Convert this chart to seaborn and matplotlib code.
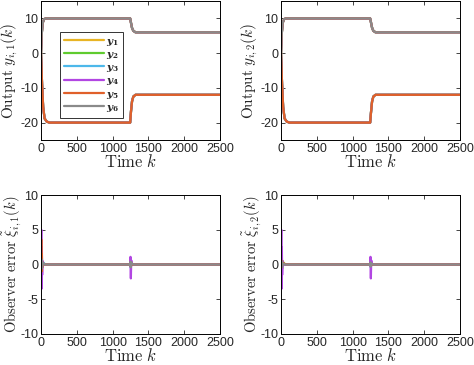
import numpy as np
import pandas as pd
import seaborn as sns
import matplotlib.pyplot as plt
from matplotlib.lines import Line2D
from matplotlib.font_manager import FontProperties

# --- data ---
AGENTS = ["y1", "y2", "y3", "y4", "y5", "y6"]
LEGEND_LABELS = [r"$\boldsymbol{y}_{\mathbf{%d}}$" % i for i in range(1, 7)]
COLORS = ["#E8B424", "#5FCB2E", "#4DB8EA", "#B246E2", "#E0602A", "#8A8A8A"]

# output trajectories (knots of the curves)
UP_K = [0, 10, 25, 45, 70, 1245, 1258, 1272, 1290, 1320, 2500]
UP_1 = [0, 5.5, 8.8, 9.8, 10, 10, 8.6, 7.2, 6.4, 6.0, 6.0]
UP_2 = [0, 5.5, 8.8, 9.8, 10, 10, 8.7, 7.3, 6.4, 6.0, 6.0]
LOW_K = [0, 15, 30, 50, 80, 120, 1245, 1258, 1272, 1290, 1320, 2500]
LOW_1 = [0, -9, -15.5, -18.8, -19.7, -20, -20, -16.5, -13.8, -12.5, -12, -12]
LOW_2 = [0, -9, -15.5, -18.8, -19.7, -20, -20, -16.8, -13.9, -12.5, -12, -12]

# observer error transients
ERR_K = [0, 4, 8, 12, 16, 22, 32, 50, 70, 1245, 1250, 1255, 1260, 1270, 1285, 1300, 2500]
ERR1 = [
    [0, 1.0, -0.8, 0.5, -0.3, 0.1, 0.05, 0, 0, 0, 0.3, -0.3, 0.1, 0, 0, 0, 0],
    [0, 1.5, -1.0, 0.6, -0.3, 0.1, 0.05, 0, 0, 0, 0.2, -0.4, 0.2, 0, 0, 0, 0],
    [0, 2.0, -1.5, 1.0, -0.5, 0.4, 0.3, 0.1, 0, 0, 0.5, -0.5, 0.3, 0.1, 0, 0, 0],
    [0, 5.0, -3.5, 2.5, -1.5, 0.5, 0.1, 0, 0, 0, 1.1, -2.0, 0.6, 0.1, 0, 0, 0],
    [0, 3.6, -1.0, 1.5, -0.5, 0.3, 0.1, 0.05, 0, 0, 0.3, -0.3, 0.1, 0, 0, 0, 0],
    [0, 0.8, -0.6, 0.5, -0.3, 0.3, 0.2, 0.05, 0, 0, 0.4, -0.4, 0.3, 0.15, 0.03, 0, 0],
]
ERR2 = [
    [0, 0.8, -0.6, 0.4, -0.2, 0.1, 0.05, 0, 0, 0, 0.3, -0.3, 0.1, 0, 0, 0, 0],
    [0, 1.2, -0.9, 1.0, -0.6, 0.5, 0.3, 0.1, 0, 0, 0.3, -0.4, 0.2, 0.1, 0, 0, 0],
    [0, 1.0, -0.8, 0.6, -0.4, 0.2, 0.1, 0, 0, 0, 0.4, -0.4, 0.2, 0.1, 0, 0, 0],
    [0, 5.0, -3.5, 2.5, -1.5, 0.5, 0.1, 0, 0, 0, 1.1, -2.0, 0.6, 0.1, 0, 0, 0],
    [0, 0.6, -0.4, 0.3, -0.2, 0.3, 0.2, 0.1, 0.02, 0, 0.2, -0.2, 0.1, 0, 0, 0, 0],
    [0, 0.5, -0.4, 0.3, -0.2, 0.2, 0.1, 0.03, 0, 0, 0.3, -0.3, 0.2, 0.1, 0.02, 0, 0],
]


def long_frame(ks, rows):
    recs = []
    for name, vals in zip(AGENTS, rows):
        for k, v in zip(ks, vals):
            recs.append({"k": k, "v": v, "agent": name})
    return pd.DataFrame(recs)


sns.set_theme(style="ticks")
plt.rcParams["font.family"] = ["Liberation Sans", "DejaVu Sans"]
plt.rcParams["mathtext.fontset"] = "cm"
plt.rcParams["axes.unicode_minus"] = False

fig = plt.figure(figsize=(4.74, 3.65), dpi=100)
W, H = 474, 365


def add_ax(x0, x1, y0, y1):
    return fig.add_axes([x0 / W, 1 - y1 / H, (x1 - x0) / W, (y1 - y0) / H])


axes = [
    add_ax(41, 220, 1, 140), add_ax(281, 460, 1, 140),
    add_ax(41, 220, 195, 334), add_ax(281, 460, 195, 334),
]
pal = dict(zip(AGENTS, COLORS))
lw = 1.6

for ax, up, low in [(axes[0], UP_1, LOW_1), (axes[1], UP_2, LOW_2)]:
    sns.lineplot(data=long_frame(UP_K, [up] * 6), x="k", y="v", hue="agent",
                 hue_order=AGENTS, palette=pal, lw=lw, legend=False,
                 estimator=None, sort=False, ax=ax)
    order = ["y1", "y2", "y3", "y4", "y6", "y5"]
    sns.lineplot(data=long_frame(LOW_K, [low] * 6), x="k", y="v", hue="agent",
                 hue_order=order, palette=pal, lw=lw, legend=False,
                 estimator=None, sort=False, ax=ax)
    ax.set_ylim(-25, 15)
    ax.set_yticks([-20, -10, 0, 10])

for ax, rows in [(axes[2], ERR1), (axes[3], ERR2)]:
    sns.lineplot(data=long_frame(ERR_K, rows), x="k", y="v", hue="agent",
                 hue_order=AGENTS, palette=pal, lw=lw, legend=False,
                 estimator=None, sort=False, ax=ax)
    ax.set_ylim(-10, 10)
    ax.set_yticks([-10, -5, 0, 5, 10])

ylabels = [r"$\mathrm{Output}\ y_{i,1}(k)$", r"$\mathrm{Output}\ y_{i,2}(k)$",
           r"$\mathrm{Observer\ error}\ \tilde{\xi}_{i,1}(k)$",
           r"$\mathrm{Observer\ error}\ \tilde{\xi}_{i,2}(k)$"]
ysizes = [11, 11, 10.5, 10.5]
ylab_x = [-0.118, -0.118, -0.1, -0.1]
for ax, yl, fs, lx in zip(axes, ylabels, ysizes, ylab_x):
    ax.set_xlim(0, 2500)
    ax.set_xticks([0, 500, 1000, 1500, 2000, 2500])
    ax.set_xlabel(r"$\mathrm{Time}\ k$", fontsize=12, labelpad=-1)
    ax.set_ylabel(yl, fontsize=fs)
    ax.yaxis.set_label_coords(lx, 0.5)
    ax.tick_params(direction="in", length=3, width=0.6, labelsize=9,
                   top=True, right=True, pad=2)
    for s in ax.spines.values():
        s.set_linewidth(0.7)
        s.set_color("black")

handles = [Line2D([], [], color=c, lw=lw) for c in COLORS]
leg_font = FontProperties(size=7.5, math_fontfamily="dejavuserif")
leg = axes[0].legend(handles, LEGEND_LABELS, loc="upper left",
                     bbox_to_anchor=(0.106, 0.777), borderaxespad=0,
                     fancybox=False, edgecolor="black", prop=leg_font,
                     handlelength=3.9, labelspacing=0.12, handletextpad=0.2,
                     borderpad=0.35)
leg.get_frame().set_linewidth(0.7)

fig.savefig("out.png", dpi=100)
